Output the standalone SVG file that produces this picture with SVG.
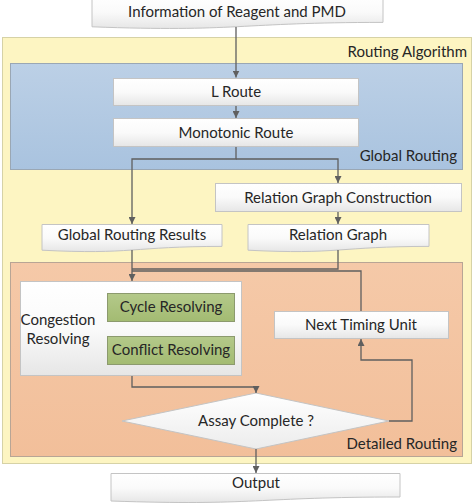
<svg xmlns="http://www.w3.org/2000/svg" width="474" height="504" viewBox="0 0 474 504">
<defs>
<linearGradient id="gw" x1="0" y1="0" x2="0" y2="1"><stop offset="0" stop-color="#ffffff"/><stop offset="0.5" stop-color="#fafafa"/><stop offset="1" stop-color="#e6e6e6"/></linearGradient>
<linearGradient id="gb" x1="0" y1="0" x2="0" y2="1"><stop offset="0" stop-color="#bcd0e6"/><stop offset="1" stop-color="#a9c3df"/></linearGradient>
<linearGradient id="go" x1="0" y1="0" x2="0" y2="1"><stop offset="0" stop-color="#f5c9a8"/><stop offset="1" stop-color="#f2bf9a"/></linearGradient>
<linearGradient id="gg" x1="0" y1="0" x2="0" y2="1"><stop offset="0" stop-color="#b4c98a"/><stop offset="1" stop-color="#a3bb72"/></linearGradient>
<linearGradient id="gd" x1="0" y1="0" x2="0" y2="1"><stop offset="0" stop-color="#ffffff"/><stop offset="1" stop-color="#ececec"/></linearGradient>
<marker id="ah" viewBox="0 0 10 10" refX="10" refY="5" markerWidth="7" markerHeight="7" markerUnits="userSpaceOnUse" orient="auto"><path d="M0,0 L10,5 L0,10 z" fill="#5f5f5f"/></marker>
<style>
.t{font-family:Lato,"Open Sans","Liberation Sans",sans-serif;font-size:15px;fill:#262626;text-anchor:middle}
.r{text-anchor:end}
.box{fill:url(#gw);stroke:#c4c4c4;stroke-width:1}
.grn{fill:url(#gg);stroke:#8c9a6e;stroke-width:1}
.ln{fill:none;stroke:#5f5f5f;stroke-width:1.3}
</style>
</defs>
<g id="routing-algorithm">
<rect x="2.5" y="37.5" width="469" height="426" fill="#fdf5c2" stroke="#d6d2a6" stroke-width="1"/>
<text class="t r" x="467" y="57">Routing Algorithm</text>
</g>
<g id="global-routing">
<rect x="10.5" y="63.5" width="452" height="106" fill="url(#gb)" stroke="#9aa7b4" stroke-width="1"/>
<text class="t r" x="457" y="161">Global Routing</text>
</g>
<g id="detailed-routing">
<rect x="10.5" y="262.5" width="452" height="194" fill="url(#go)" stroke="#b8a595" stroke-width="1"/>
<text class="t r" x="457" y="449">Detailed Routing</text>
</g>
<g id="info">
<path class="box" d="M92,-4 H383 V22.4 C237.5,22.4 237.5,32.3 92,26.8 Z"/>
<text class="t" x="237" y="17">Information of Reagent and PMD</text>
</g>
<g id="l-route">
<rect class="box" x="113.5" y="78.5" width="245" height="27"/>
<text class="t" x="236" y="97">L Route</text>
</g>
<g id="monotonic-route">
<rect class="box" x="113.5" y="118.5" width="245" height="28"/>
<text class="t" x="236" y="138">Monotonic Route</text>
</g>
<g id="relation-graph-construction">
<rect class="box" x="215.5" y="183.5" width="246" height="28"/>
<text class="t" x="338" y="203">Relation Graph Construction</text>
</g>
<g id="global-routing-results">
<path class="box" d="M42,224.5 H222 V246.4 C132,246.4 132,254.8 42,250.2 Z"/>
<text class="t" x="132" y="240">Global Routing Results</text>
</g>
<g id="relation-graph">
<path class="box" d="M248,224.5 H429 V246.4 C338.5,246.4 338.5,254.8 248,250.2 Z"/>
<text class="t" x="338" y="240">Relation Graph</text>
</g>
<g id="congestion-resolving">
<rect class="box" x="20.5" y="281.5" width="221" height="94"/>
<text class="t" x="58" y="325">Congestion</text>
<text class="t" x="58" y="344">Resolving</text>
</g>
<g id="cycle-resolving">
<rect class="grn" x="107.5" y="293.5" width="127" height="28"/>
<text class="t" x="171" y="312">Cycle Resolving</text>
</g>
<g id="conflict-resolving">
<rect class="grn" x="107.5" y="336.5" width="127" height="28"/>
<text class="t" x="171" y="355">Conflict Resolving</text>
</g>
<g id="next-timing-unit">
<rect class="box" x="274.5" y="311.5" width="174" height="27"/>
<text class="t" x="361" y="330">Next Timing Unit</text>
</g>
<g id="assay-complete">
<path d="M256,393 L389,421 L256,449 L122,421 Z" fill="url(#gd)" stroke="#c4c4c4" stroke-width="1"/>
<text class="t" x="256" y="426">Assay Complete ?</text>
</g>
<g id="output">
<path class="box" d="M111,473.5 H400 V497 C255.5,497 255.5,506 111,501 Z"/>
<text class="t" x="256" y="488">Output</text>
</g>
<g id="connectors">
<path class="ln" d="M236,27 V77.5" marker-end="url(#ah)"/>
<path class="ln" d="M236,106 V118" marker-end="url(#ah)"/>
<path class="ln" d="M236,147 V159 H132 V224" marker-end="url(#ah)"/>
<path class="ln" d="M236,159 H338 V183" marker-end="url(#ah)"/>
<path class="ln" d="M338,212 V224" marker-end="url(#ah)"/>
<path class="ln" d="M338,250 V269 H132"/>
<path class="ln" d="M132,250 V281" marker-end="url(#ah)"/>
<path class="ln" d="M361,311 V271 H132"/>
<path class="ln" d="M132,376 V387 H256 V393" marker-end="url(#ah)"/>
<path class="ln" d="M389,421 H412 V360 H361 V339" marker-end="url(#ah)"/>
<path class="ln" d="M256,449 V473" marker-end="url(#ah)"/>
</g>
</svg>
